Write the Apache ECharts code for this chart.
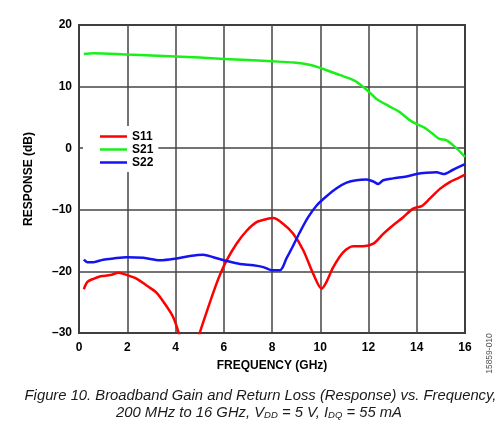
<!DOCTYPE html>
<html>
<head>
<meta charset="utf-8">
<script src="https://cdn.jsdelivr.net/npm/echarts@6/dist/echarts.min.js"></script>
<style>
html,body{margin:0;padding:0;background:#fff;}
#c{width:502px;height:430px;}
</style>
</head>
<body>
<div id="c"></div>
<script>
const seriesNames = ['S11', 'S21', 'S22'];
const xTicks = [0, 2, 4, 6, 8, 10, 12, 14, 16];
const yTicks = [-30, -20, -10, 0, 10, 20];

const s11Freq = [0.2,0.35,0.6,0.9,1.3,1.65,2.0,2.4,2.8,3.2,3.6,3.9,4.12,4.3,4.55,4.8,5.01,5.29,5.57,5.84,6.12,6.53,6.95,7.36,7.78,8.05,8.47,8.88,9.3,9.71,10.06,10.26,10.54,10.95,11.37,11.78,12.2,12.61,13.02,13.44,13.85,14.2,14.54,14.96,15.37,15.7,16.0];
const s11Val = [-22.9,-21.7,-21.2,-20.8,-20.6,-20.2,-20.6,-21.2,-22.3,-23.4,-25.5,-27.4,-29.8,-32.5,-36,-32.5,-29.9,-26.6,-23.4,-20.6,-18.2,-15.5,-13.4,-12.0,-11.5,-11.35,-12.3,-13.9,-16.6,-20.4,-22.8,-21.7,-19.3,-16.9,-15.9,-15.9,-15.5,-13.9,-12.5,-11.2,-9.8,-9.4,-8.2,-6.6,-5.5,-4.9,-4.3];

const s21Freq = [0.2,0.6,2.0,4.0,6.0,8.0,8.9,9.6,10.1,10.8,11.4,11.8,12.06,12.33,12.86,13.28,13.69,14.0,14.32,14.67,14.94,15.22,15.5,15.78,16.0];
const s21Val = [15.3,15.4,15.2,14.9,14.5,14.1,13.9,13.5,12.9,11.9,11.0,9.9,9.0,8.0,6.8,5.9,4.6,3.9,3.35,2.3,1.5,1.3,0.5,-0.5,-1.4];

const s22Freq = [0.2,0.35,0.6,1.0,1.42,1.98,2.67,3.36,4.05,4.6,5.15,5.57,6.12,6.67,7.22,7.64,7.98,8.33,8.6,8.88,9.16,9.5,9.85,10.26,10.68,11.09,11.5,11.92,12.2,12.4,12.61,13.02,13.58,13.99,14.4,14.82,15.1,15.51,16.0];
const s22Val = [-18.1,-18.5,-18.5,-18.1,-17.9,-17.7,-17.8,-18.2,-17.9,-17.5,-17.3,-17.7,-18.3,-18.8,-19.0,-19.3,-19.8,-19.8,-17.9,-15.8,-13.6,-11.2,-9.3,-7.8,-6.5,-5.6,-5.2,-5.1,-5.4,-5.8,-5.2,-4.9,-4.6,-4.2,-4.0,-3.9,-4.2,-3.5,-2.6];

const colors = ['#ff0000', '#1aef1a', '#1414f0'];
const FONT = '"Liberation Sans", Arial, sans-serif';

function pairs(xs, ys) { return xs.map((x, i) => [x, ys[i]]); }

const chart = echarts.init(document.getElementById('c'));
chart.setOption({
  animation: false,
  backgroundColor: '#fff',
  grid: { left: 79, right: 37, top: 25, bottom: 97, show: true, borderColor: '#333', borderWidth: 2, backgroundColor: 'transparent' },
  legend: {
    data: seriesNames,
    orient: 'vertical',
    left: 83, top: 126,
    padding: [4, 5, 3, 17],
    backgroundColor: '#fff',
    icon: 'rect',
    itemWidth: 27, itemHeight: 2.5,
    itemGap: 0,
    textStyle: { fontFamily: FONT, fontWeight: 'bold', fontSize: 12, color: '#000', lineHeight: 13 }
  },
  xAxis: {
    type: 'value', min: xTicks[0], max: xTicks[xTicks.length - 1], interval: 2,
    name: 'FREQUENCY (GHz)', nameLocation: 'middle', nameGap: 27,
    nameTextStyle: { fontFamily: FONT, fontWeight: 'bold', fontSize: 12, color: '#000' },
    axisLine: { show: false }, axisTick: { show: false },
    axisLabel: { fontFamily: FONT, fontWeight: 'bold', fontSize: 12, color: '#000', margin: 9 },
    splitLine: { show: true, lineStyle: { color: '#444', width: 1.5 } }
  },
  yAxis: {
    type: 'value', min: yTicks[0], max: yTicks[yTicks.length - 1], interval: 10,
    name: 'RESPONSE (dB)', nameLocation: 'middle', nameGap: 44,
    nameTextStyle: { fontFamily: FONT, fontWeight: 'bold', fontSize: 12, color: '#000' },
    axisLine: { show: false }, axisTick: { show: false },
    axisLabel: { fontFamily: FONT, fontWeight: 'bold', fontSize: 12, color: '#000', margin: 7,
      formatter: v => String(v).replace('-', '\u2013') },
    splitLine: { show: true, lineStyle: { color: '#444', width: 1.5 } }
  },
  series: [
    { name: seriesNames[0], type: 'line', data: pairs(s11Freq, s11Val), showSymbol: false, smooth: 0.3, clip: true, color: colors[0], lineStyle: { width: 2.5 }, z: 3 },
    { name: seriesNames[1], type: 'line', data: pairs(s21Freq, s21Val), showSymbol: false, smooth: 0.3, clip: true, color: colors[1], lineStyle: { width: 2.5 }, z: 3 },
    { name: seriesNames[2], type: 'line', data: pairs(s22Freq, s22Val), showSymbol: false, smooth: 0.3, clip: true, color: colors[2], lineStyle: { width: 2.5 }, z: 3 }
  ],
  graphic: [
    { type: 'text', x: 260.5, y: 396, style: { text: 'Figure 10. Broadband Gain and Return Loss (Response) vs. Frequency,', font: 'italic 14.8px ' + FONT, fill: '#1a1a1a', textAlign: 'center', textVerticalAlign: 'middle' } },
    { type: 'text', x: 259, y: 413, style: {
        text: '200 MHz to 16 GHz, V{sub|DD} = 5 V, I{sub|DQ} = 55 mA',
        font: 'italic 14.8px ' + FONT, fill: '#1a1a1a', textAlign: 'center', textVerticalAlign: 'middle',
        rich: { sub: { fontSize: 9.5, fontStyle: 'italic', fontFamily: FONT, fill: '#1a1a1a', color: '#1a1a1a', verticalAlign: 'bottom', lineHeight: 9 } }
      } },
    { type: 'text', x: 490, y: 353.5, rotation: Math.PI / 2, style: { text: '15859-010', font: '8.5px ' + FONT, fill: '#555', textAlign: 'center', textVerticalAlign: 'middle' } }
  ]
});
</script>
</body>
</html>
